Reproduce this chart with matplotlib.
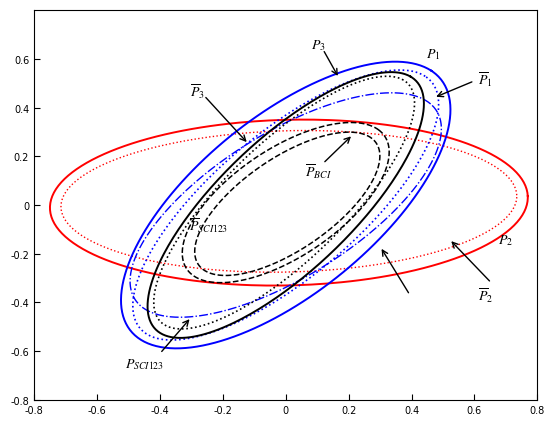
import numpy as np
import matplotlib.pyplot as plt

plt.rcParams['mathtext.fontset'] = 'stix'

# Ellipses: (center x, center y, semi-major, semi-minor, angle deg)
p2 = (0.01, 0.01, 0.76, 0.34, 2)
p2_bar = (0.01, 0.015, 0.725, 0.29, 2)
p1 = (0.0, 0.0, 0.72, 0.32, 50)
p1_bar = (0.0, 0.0, 0.69, 0.26, 50)
p1_dashdot = (0.0, 0.0, 0.62, 0.27, 42)
p3 = (0.0, 0.0, 0.66, 0.235, 53)
p3_bar = (-0.005, 0.01, 0.63, 0.21, 53)
p_bci = (0.0, 0.01, 0.42, 0.20, 45)
p_sci = (0.005, 0.005, 0.38, 0.17, 45)

series = [
    (p2, 'red', '-', 1.4),
    (p2_bar, 'red', ':', 1.0),
    (p1, 'blue', '-', 1.4),
    (p1_bar, 'blue', ':', 1.2),
    (p1_dashdot, 'blue', '-.', 1.0),
    (p3, 'black', '-', 1.4),
    (p3_bar, 'black', ':', 1.2),
    (p_bci, 'black', '--', 1.1),
    (p_sci, 'black', '--', 1.1),
]


def ellipse(cx, cy, a, b, ang):
    t = np.linspace(0, 2 * np.pi, 300)
    th = np.deg2rad(ang)
    x = a * np.cos(t)
    y = b * np.sin(t)
    return cx + x * np.cos(th) - y * np.sin(th), cy + x * np.sin(th) + y * np.cos(th)


fig = plt.figure(figsize=(5.5, 4.31), dpi=100)
ax = fig.add_axes([0.062, 0.07, 0.915, 0.904])

for e, c, ls, lw in series:
    x, y = ellipse(*e)
    ax.plot(x, y, color=c, linestyle=ls, linewidth=lw)

# labels and arrows
labels = [
    (r'$P_3$', 0.105, 0.66),
    (r'$P_1$', 0.47, 0.62),
    (r'$\overline{P}_1$', 0.635, 0.52),
    (r'$\overline{P}_3$', -0.28, 0.47),
    (r'$\overline{P}_{BCI}$', 0.105, 0.14),
    (r'$\overline{P}_{SCI123}$', -0.245, -0.08),
    (r'$\overline{P}_2$', 0.635, -0.37),
    (r'$P_2$', 0.70, -0.14),
    (r'$P_{SCI123}$', -0.45, -0.65),
]
for s, x, y in labels:
    ax.text(x, y, s, fontsize=10, ha='center', va='center')

arrows = [
    ((0.118, 0.64), (0.17, 0.52)),
    ((0.60, 0.51), (0.47, 0.44)),
    ((-0.26, 0.45), (-0.118, 0.25)),
    ((0.118, 0.17), (0.214, 0.29)),
    ((0.654, -0.32), (0.52, -0.14)),
    ((0.395, -0.37), (0.30, -0.17)),
    ((-0.40, -0.61), (-0.30, -0.46)),
]
for start, end in arrows:
    ax.annotate('', xy=end, xytext=start,
                arrowprops=dict(arrowstyle='->', color='black', lw=1.0))

ax.set_xlim(-0.8, 0.8)
ax.set_ylim(-0.8, 0.8)
ax.set_xticks(np.arange(-0.8, 0.81, 0.2))
ax.set_yticks(np.arange(-0.8, 0.61, 0.2))
ax.set_xticklabels(['-0.8', '-0.6', '-0.4', '-0.2', '0', '0.2', '0.4', '0.6', '0.8'])
ax.set_yticklabels(['-0.8', '-0.6', '-0.4', '-0.2', '0', '0.2', '0.4', '0.6'])
ax.tick_params(direction='in', labelsize=7, length=4)

fig.savefig('out.png', dpi=100)
